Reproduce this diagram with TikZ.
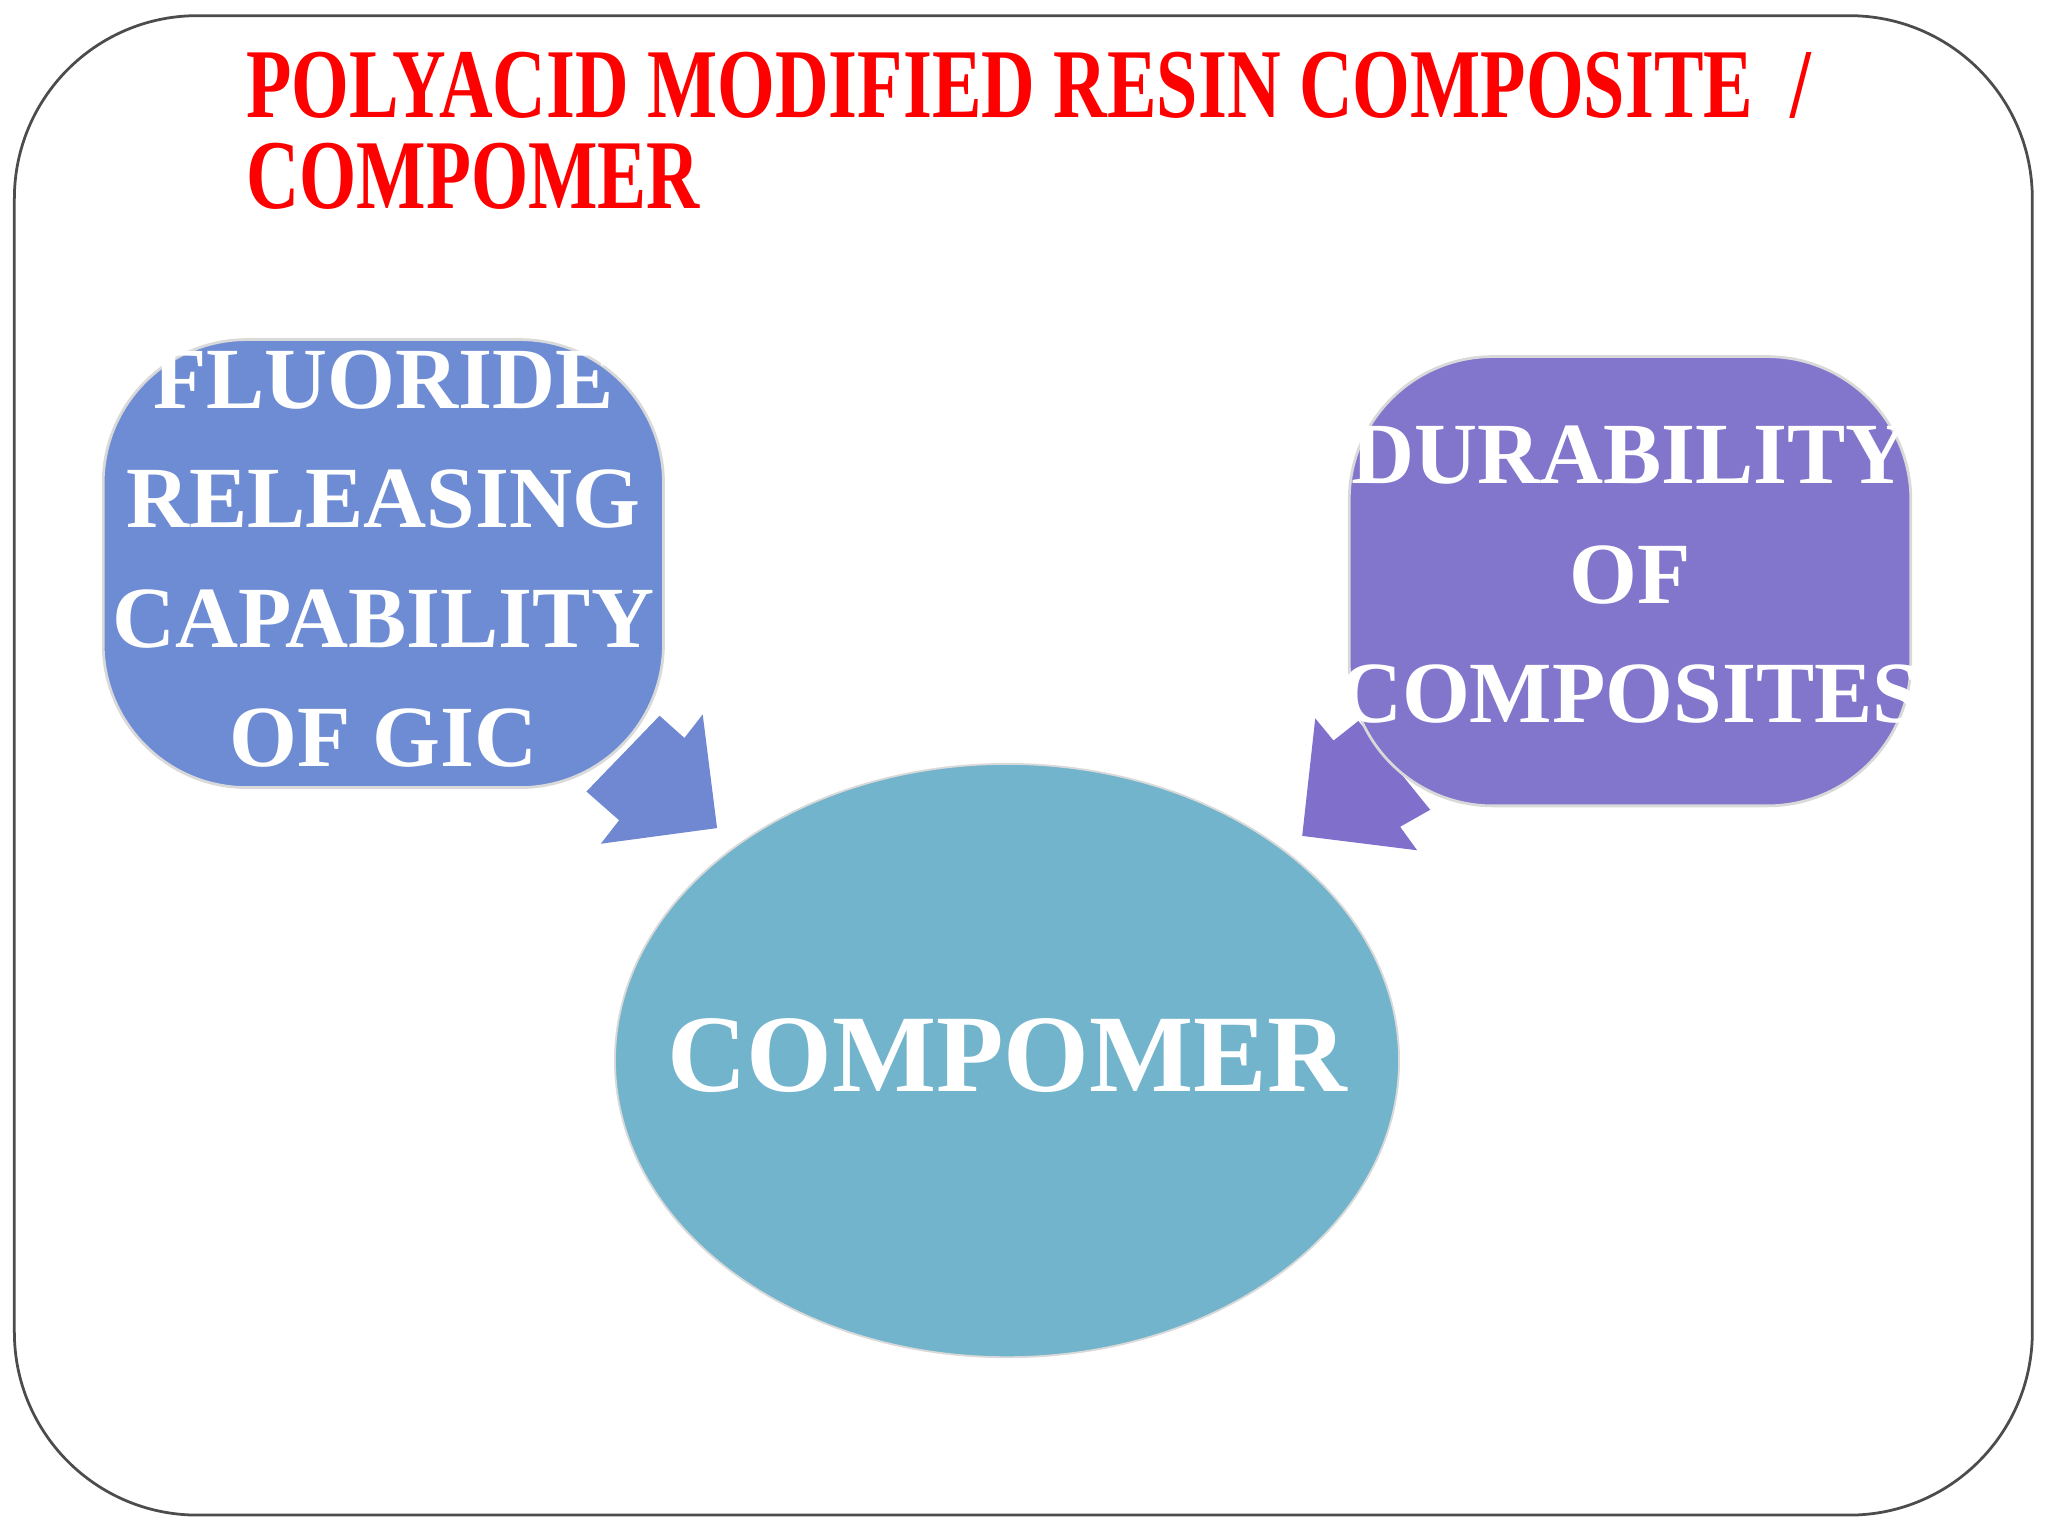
\documentclass[tikz,border=0pt]{standalone}
\usepackage{fontspec}
\usepackage{graphicx}
\setmainfont{Liberation Serif}
\usetikzlibrary{shapes.geometric}
\definecolor{boxblue}{HTML}{6E8CD4}
\definecolor{boxpurple}{HTML}{8276CC}
\definecolor{ellblue}{HTML}{73B4CD}
\definecolor{arrL}{HTML}{7088D2}
\definecolor{arrR}{HTML}{8070CC}
\tikzset{
  boxtext/.style={text=white,font=\bfseries\fontsize{19}{26}\selectfont,align=center},
  card/.style={draw=white!85!black,rounded corners=1.1cm,line width=0.6pt}
}
\begin{document}
\begin{tikzpicture}[x=0.01cm,y=-0.01cm]
\useasboundingbox (0,0) rectangle (1568,1176);
\fill[white] (0,0) rectangle (1568,1176);
\draw[black!70,line width=0.6pt,rounded corners=1.4cm] (11,12) rectangle (1556,1160);
% title
\node[anchor=west,text=red,inner sep=0] (t1) at (188,65) {\resizebox{11.97cm}{0.5cm}{\bfseries POLYACID MODIFIED RESIN COMPOSITE\ \ /}};
\node[anchor=west,text=red,inner sep=0] (t2) at (188,135) {\resizebox{3.47cm}{0.5cm}{\bfseries COMPOMER}};
% arrows
\fill[arrL] (449,606) -- (474,628) -- (460,646) -- (549,634) -- (538,547) -- (524,565) -- (505,548) -- cycle;
\fill[arrR] (1095,620) -- (1072,633) -- (1085,651) -- (997,640) -- (1007,550) -- (1021,567) -- (1040,552) -- cycle;
% boxes
\draw[card,fill=boxblue] (79,260) rectangle (508,603);
\node[boxtext] (L) at (293.5,428) {FLUORIDE\\RELEASING\\CAPABILITY\\OF GIC};
\draw[card,fill=boxpurple] (1033,273) rectangle (1463,617);
\node[boxtext] (R) at (1248,440) {DURABILITY\\OF\\COMPOSITES};
% ellipse
\node[ellipse,fill=ellblue,draw=white!85!black,minimum width=6.0cm,minimum height=4.54cm,inner sep=0] (E) at (771,812) {};
\node[text=white,font=\bfseries\fontsize{24}{28}\selectfont] (Et) at (771,808) {COMPOMER};
\end{tikzpicture}
\end{document}
